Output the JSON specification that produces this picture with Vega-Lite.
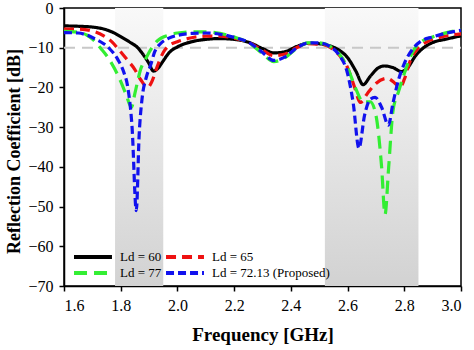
{
  "$schema": "https://vega.github.io/schema/vega-lite/v6.json",
  "width": 397,
  "height": 278,
  "autosize": "none",
  "padding": {"left": 64, "top": 8, "right": 13, "bottom": 64},
  "background": "white",
  "config": {
    "view": {"stroke": "black", "strokeWidth": 1.5},
    "font": "Liberation Serif",
    "axis": {"labelFont": "Liberation Serif", "titleFont": "Liberation Serif", "labelOverlap": false, "grid": false},
    "legend": {"labelFont": "Liberation Serif"}
  },
  "datasets": {
    "bands": [{"f": 1.78, "f2": 1.95, "s": 0, "s2": -70}, {"f": 2.52, "f2": 2.85, "s": 0, "s2": -70}],
    "ref": [{"f": 1.6, "f2": 3.0, "s": -10}],
    "curves": [
      {"f": 1.60, "s": -4.5, "series": "Ld = 60"},
      {"f": 1.65, "s": -4.6, "series": "Ld = 60"},
      {"f": 1.70, "s": -4.8, "series": "Ld = 60"},
      {"f": 1.75, "s": -5.5, "series": "Ld = 60"},
      {"f": 1.78, "s": -6.4, "series": "Ld = 60"},
      {"f": 1.80, "s": -7.2, "series": "Ld = 60"},
      {"f": 1.83, "s": -8.5, "series": "Ld = 60"},
      {"f": 1.86, "s": -10.0, "series": "Ld = 60"},
      {"f": 1.88, "s": -11.8, "series": "Ld = 60"},
      {"f": 1.90, "s": -14.0, "series": "Ld = 60"},
      {"f": 1.915, "s": -15.9, "series": "Ld = 60"},
      {"f": 1.93, "s": -15.3, "series": "Ld = 60"},
      {"f": 1.95, "s": -13.3, "series": "Ld = 60"},
      {"f": 1.97, "s": -11.3, "series": "Ld = 60"},
      {"f": 2.00, "s": -9.8, "series": "Ld = 60"},
      {"f": 2.05, "s": -8.5, "series": "Ld = 60"},
      {"f": 2.10, "s": -7.9, "series": "Ld = 60"},
      {"f": 2.15, "s": -7.7, "series": "Ld = 60"},
      {"f": 2.20, "s": -7.9, "series": "Ld = 60"},
      {"f": 2.25, "s": -8.6, "series": "Ld = 60"},
      {"f": 2.30, "s": -10.2, "series": "Ld = 60"},
      {"f": 2.34, "s": -11.3, "series": "Ld = 60"},
      {"f": 2.38, "s": -11.0, "series": "Ld = 60"},
      {"f": 2.42, "s": -9.7, "series": "Ld = 60"},
      {"f": 2.46, "s": -8.9, "series": "Ld = 60"},
      {"f": 2.50, "s": -9.0, "series": "Ld = 60"},
      {"f": 2.54, "s": -9.6, "series": "Ld = 60"},
      {"f": 2.57, "s": -10.6, "series": "Ld = 60"},
      {"f": 2.60, "s": -12.5, "series": "Ld = 60"},
      {"f": 2.63, "s": -16.0, "series": "Ld = 60"},
      {"f": 2.655, "s": -19.3, "series": "Ld = 60"},
      {"f": 2.68, "s": -17.2, "series": "Ld = 60"},
      {"f": 2.71, "s": -15.0, "series": "Ld = 60"},
      {"f": 2.73, "s": -14.6, "series": "Ld = 60"},
      {"f": 2.76, "s": -15.0, "series": "Ld = 60"},
      {"f": 2.79, "s": -16.0, "series": "Ld = 60"},
      {"f": 2.81, "s": -15.2, "series": "Ld = 60"},
      {"f": 2.84, "s": -12.0, "series": "Ld = 60"},
      {"f": 2.87, "s": -9.9, "series": "Ld = 60"},
      {"f": 2.90, "s": -8.7, "series": "Ld = 60"},
      {"f": 2.95, "s": -7.8, "series": "Ld = 60"},
      {"f": 3.00, "s": -7.0, "series": "Ld = 60"},

      {"f": 1.60, "s": -5.3, "series": "Ld = 65"},
      {"f": 1.65, "s": -5.3, "series": "Ld = 65"},
      {"f": 1.70, "s": -5.8, "series": "Ld = 65"},
      {"f": 1.74, "s": -7.0, "series": "Ld = 65"},
      {"f": 1.77, "s": -8.6, "series": "Ld = 65"},
      {"f": 1.79, "s": -10.2, "series": "Ld = 65"},
      {"f": 1.82, "s": -12.8, "series": "Ld = 65"},
      {"f": 1.85, "s": -15.5, "series": "Ld = 65"},
      {"f": 1.87, "s": -18.0, "series": "Ld = 65"},
      {"f": 1.895, "s": -20.0, "series": "Ld = 65"},
      {"f": 1.91, "s": -18.5, "series": "Ld = 65"},
      {"f": 1.93, "s": -14.5, "series": "Ld = 65"},
      {"f": 1.95, "s": -11.2, "series": "Ld = 65"},
      {"f": 1.97, "s": -9.5, "series": "Ld = 65"},
      {"f": 2.00, "s": -8.5, "series": "Ld = 65"},
      {"f": 2.05, "s": -7.5, "series": "Ld = 65"},
      {"f": 2.10, "s": -7.1, "series": "Ld = 65"},
      {"f": 2.15, "s": -7.1, "series": "Ld = 65"},
      {"f": 2.20, "s": -7.6, "series": "Ld = 65"},
      {"f": 2.25, "s": -8.7, "series": "Ld = 65"},
      {"f": 2.30, "s": -10.6, "series": "Ld = 65"},
      {"f": 2.34, "s": -12.0, "series": "Ld = 65"},
      {"f": 2.38, "s": -11.6, "series": "Ld = 65"},
      {"f": 2.42, "s": -10.0, "series": "Ld = 65"},
      {"f": 2.46, "s": -9.0, "series": "Ld = 65"},
      {"f": 2.50, "s": -9.1, "series": "Ld = 65"},
      {"f": 2.54, "s": -10.0, "series": "Ld = 65"},
      {"f": 2.57, "s": -11.8, "series": "Ld = 65"},
      {"f": 2.60, "s": -15.0, "series": "Ld = 65"},
      {"f": 2.625, "s": -20.0, "series": "Ld = 65"},
      {"f": 2.645, "s": -23.8, "series": "Ld = 65"},
      {"f": 2.67, "s": -21.5, "series": "Ld = 65"},
      {"f": 2.70, "s": -19.0, "series": "Ld = 65"},
      {"f": 2.74, "s": -17.7, "series": "Ld = 65"},
      {"f": 2.765, "s": -18.8, "series": "Ld = 65"},
      {"f": 2.785, "s": -20.0, "series": "Ld = 65"},
      {"f": 2.80, "s": -18.0, "series": "Ld = 65"},
      {"f": 2.82, "s": -13.5, "series": "Ld = 65"},
      {"f": 2.85, "s": -10.0, "series": "Ld = 65"},
      {"f": 2.88, "s": -8.5, "series": "Ld = 65"},
      {"f": 2.92, "s": -7.5, "series": "Ld = 65"},
      {"f": 3.00, "s": -6.5, "series": "Ld = 65"},

      {"f": 1.60, "s": -5.9, "series": "Ld = 77"},
      {"f": 1.65, "s": -6.1, "series": "Ld = 77"},
      {"f": 1.68, "s": -6.8, "series": "Ld = 77"},
      {"f": 1.70, "s": -7.8, "series": "Ld = 77"},
      {"f": 1.73, "s": -10.2, "series": "Ld = 77"},
      {"f": 1.76, "s": -13.0, "series": "Ld = 77"},
      {"f": 1.78, "s": -15.5, "series": "Ld = 77"},
      {"f": 1.80, "s": -18.5, "series": "Ld = 77"},
      {"f": 1.82, "s": -22.0, "series": "Ld = 77"},
      {"f": 1.838, "s": -25.0, "series": "Ld = 77"},
      {"f": 1.85, "s": -21.5, "series": "Ld = 77"},
      {"f": 1.87, "s": -15.5, "series": "Ld = 77"},
      {"f": 1.89, "s": -12.5, "series": "Ld = 77"},
      {"f": 1.91, "s": -10.0, "series": "Ld = 77"},
      {"f": 1.93, "s": -8.2, "series": "Ld = 77"},
      {"f": 1.97, "s": -6.8, "series": "Ld = 77"},
      {"f": 2.00, "s": -6.3, "series": "Ld = 77"},
      {"f": 2.05, "s": -6.0, "series": "Ld = 77"},
      {"f": 2.10, "s": -6.0, "series": "Ld = 77"},
      {"f": 2.15, "s": -6.4, "series": "Ld = 77"},
      {"f": 2.20, "s": -7.3, "series": "Ld = 77"},
      {"f": 2.25, "s": -8.7, "series": "Ld = 77"},
      {"f": 2.30, "s": -11.5, "series": "Ld = 77"},
      {"f": 2.34, "s": -13.5, "series": "Ld = 77"},
      {"f": 2.38, "s": -12.5, "series": "Ld = 77"},
      {"f": 2.42, "s": -10.2, "series": "Ld = 77"},
      {"f": 2.46, "s": -8.8, "series": "Ld = 77"},
      {"f": 2.50, "s": -8.8, "series": "Ld = 77"},
      {"f": 2.54, "s": -9.7, "series": "Ld = 77"},
      {"f": 2.57, "s": -11.5, "series": "Ld = 77"},
      {"f": 2.60, "s": -15.0, "series": "Ld = 77"},
      {"f": 2.63, "s": -20.5, "series": "Ld = 77"},
      {"f": 2.655, "s": -23.7, "series": "Ld = 77"},
      {"f": 2.68, "s": -23.6, "series": "Ld = 77"},
      {"f": 2.70, "s": -27.0, "series": "Ld = 77"},
      {"f": 2.72, "s": -40.0, "series": "Ld = 77"},
      {"f": 2.732, "s": -52.0, "series": "Ld = 77"},
      {"f": 2.745, "s": -40.0, "series": "Ld = 77"},
      {"f": 2.76, "s": -26.0, "series": "Ld = 77"},
      {"f": 2.78, "s": -21.0, "series": "Ld = 77"},
      {"f": 2.80, "s": -16.5, "series": "Ld = 77"},
      {"f": 2.83, "s": -11.0, "series": "Ld = 77"},
      {"f": 2.86, "s": -8.5, "series": "Ld = 77"},
      {"f": 2.90, "s": -7.3, "series": "Ld = 77"},
      {"f": 2.95, "s": -6.2, "series": "Ld = 77"},
      {"f": 3.00, "s": -5.5, "series": "Ld = 77"},

      {"f": 1.60, "s": -6.2, "series": "Ld = 72.13 (Proposed)"},
      {"f": 1.65, "s": -6.3, "series": "Ld = 72.13 (Proposed)"},
      {"f": 1.68, "s": -6.8, "series": "Ld = 72.13 (Proposed)"},
      {"f": 1.71, "s": -7.8, "series": "Ld = 72.13 (Proposed)"},
      {"f": 1.74, "s": -9.0, "series": "Ld = 72.13 (Proposed)"},
      {"f": 1.76, "s": -10.2, "series": "Ld = 72.13 (Proposed)"},
      {"f": 1.79, "s": -13.0, "series": "Ld = 72.13 (Proposed)"},
      {"f": 1.81, "s": -16.0, "series": "Ld = 72.13 (Proposed)"},
      {"f": 1.825, "s": -20.0, "series": "Ld = 72.13 (Proposed)"},
      {"f": 1.84, "s": -30.0, "series": "Ld = 72.13 (Proposed)"},
      {"f": 1.855, "s": -51.0, "series": "Ld = 72.13 (Proposed)"},
      {"f": 1.865, "s": -32.0, "series": "Ld = 72.13 (Proposed)"},
      {"f": 1.875, "s": -23.0, "series": "Ld = 72.13 (Proposed)"},
      {"f": 1.89, "s": -17.5, "series": "Ld = 72.13 (Proposed)"},
      {"f": 1.905, "s": -14.5, "series": "Ld = 72.13 (Proposed)"},
      {"f": 1.92, "s": -11.0, "series": "Ld = 72.13 (Proposed)"},
      {"f": 1.94, "s": -9.0, "series": "Ld = 72.13 (Proposed)"},
      {"f": 1.97, "s": -7.6, "series": "Ld = 72.13 (Proposed)"},
      {"f": 2.00, "s": -6.9, "series": "Ld = 72.13 (Proposed)"},
      {"f": 2.05, "s": -6.4, "series": "Ld = 72.13 (Proposed)"},
      {"f": 2.10, "s": -6.3, "series": "Ld = 72.13 (Proposed)"},
      {"f": 2.15, "s": -6.6, "series": "Ld = 72.13 (Proposed)"},
      {"f": 2.20, "s": -7.4, "series": "Ld = 72.13 (Proposed)"},
      {"f": 2.25, "s": -8.6, "series": "Ld = 72.13 (Proposed)"},
      {"f": 2.30, "s": -11.2, "series": "Ld = 72.13 (Proposed)"},
      {"f": 2.34, "s": -13.2, "series": "Ld = 72.13 (Proposed)"},
      {"f": 2.38, "s": -12.3, "series": "Ld = 72.13 (Proposed)"},
      {"f": 2.42, "s": -10.1, "series": "Ld = 72.13 (Proposed)"},
      {"f": 2.46, "s": -8.8, "series": "Ld = 72.13 (Proposed)"},
      {"f": 2.50, "s": -8.8, "series": "Ld = 72.13 (Proposed)"},
      {"f": 2.54, "s": -9.8, "series": "Ld = 72.13 (Proposed)"},
      {"f": 2.57, "s": -11.8, "series": "Ld = 72.13 (Proposed)"},
      {"f": 2.60, "s": -16.5, "series": "Ld = 72.13 (Proposed)"},
      {"f": 2.62, "s": -24.0, "series": "Ld = 72.13 (Proposed)"},
      {"f": 2.64, "s": -35.3, "series": "Ld = 72.13 (Proposed)"},
      {"f": 2.66, "s": -27.0, "series": "Ld = 72.13 (Proposed)"},
      {"f": 2.68, "s": -23.0, "series": "Ld = 72.13 (Proposed)"},
      {"f": 2.697, "s": -22.5, "series": "Ld = 72.13 (Proposed)"},
      {"f": 2.72, "s": -25.0, "series": "Ld = 72.13 (Proposed)"},
      {"f": 2.744, "s": -29.5, "series": "Ld = 72.13 (Proposed)"},
      {"f": 2.76, "s": -24.0, "series": "Ld = 72.13 (Proposed)"},
      {"f": 2.78, "s": -18.0, "series": "Ld = 72.13 (Proposed)"},
      {"f": 2.80, "s": -14.0, "series": "Ld = 72.13 (Proposed)"},
      {"f": 2.83, "s": -10.3, "series": "Ld = 72.13 (Proposed)"},
      {"f": 2.86, "s": -8.3, "series": "Ld = 72.13 (Proposed)"},
      {"f": 2.90, "s": -7.3, "series": "Ld = 72.13 (Proposed)"},
      {"f": 2.95, "s": -6.3, "series": "Ld = 72.13 (Proposed)"},
      {"f": 3.00, "s": -5.6, "series": "Ld = 72.13 (Proposed)"}
    ]
  },
  "encoding": {
    "x": {
      "field": "f", "type": "quantitative", "scale": {"domain": [1.6, 3.0], "nice": false},
      "axis": {"values": [1.6, 1.8, 2.0, 2.2, 2.4, 2.6, 2.8, 3.0], "format": ".1f", "title": "Frequency [GHz]", "labelFont": "Liberation Serif", "titleFont": "Liberation Serif", "domainColor": "black", "tickColor": "black", "domainWidth": 1.5, "tickWidth": 1.5, "labelColor": "black", "titleColor": "black", "labelFontSize": 16, "titleFontSize": 19, "titleFontWeight": "bold", "tickSize": 5, "labelPadding": 6, "titlePadding": 12}
    },
    "y": {
      "field": "s", "type": "quantitative", "scale": {"domain": [-70, 0], "nice": false},
      "axis": {"values": [-70, -60, -50, -40, -30, -20, -10, 0], "title": "Reflection Coefficient [dB]", "labelFont": "Liberation Serif", "titleFont": "Liberation Serif", "domainColor": "black", "tickColor": "black", "domainWidth": 1.5, "tickWidth": 1.5, "labelColor": "black", "titleColor": "black", "labelFontSize": 16, "titleFontSize": 18, "titleFontWeight": "bold", "tickSize": 5, "labelPadding": 6, "titleX": -50, "titleY": 143, "titleAngle": -90, "titleAlign": "center", "titleBaseline": "middle"}
    }
  },
  "layer": [
    {
      "data": {"name": "bands"},
      "mark": {"type": "rect", "fill": {"gradient": "linear", "x1": 0, "y1": 0, "x2": 0, "y2": 1, "stops": [{"offset": 0, "color": "#f9f9f9"}, {"offset": 1, "color": "#d2d2d2"}]}},
      "encoding": {
        "x2": {"field": "f2"},
        "y2": {"field": "s2"}
      }
    },
    {
      "data": {"name": "ref"},
      "mark": {"type": "rule", "color": "#c8c8c8", "strokeWidth": 2, "strokeDash": [11, 7]},
      "encoding": {"x2": {"field": "f2"}}
    },
    {
      "data": {"name": "curves"},
      "mark": {"type": "line", "strokeWidth": 3.2, "interpolate": "monotone"},
      "encoding": {
        "color": {
          "field": "series", "type": "nominal",
          "scale": {"domain": ["Ld = 60", "Ld = 65", "Ld = 77", "Ld = 72.13 (Proposed)"], "range": ["#000000", "#ee1111", "#33ee33", "#1111ee"]},
          "legend": {"orient": "none", "direction": "horizontal", "legendX": 22, "legendY": 242, "columns": 2, "title": null, "symbolType": "M-4,0H4", "symbolSize": 90, "symbolStrokeWidth": 4, "labelFontSize": 13, "rowPadding": 0, "columnPadding": -4, "labelOffset": 20}
        },
        "strokeDash": {
          "field": "series", "type": "nominal",
          "scale": {"domain": ["Ld = 60", "Ld = 65", "Ld = 77", "Ld = 72.13 (Proposed)"], "range": [[1, 0], [10, 6], [13, 7], [8, 4]]},
          "legend": {"orient": "none", "direction": "horizontal", "legendX": 22, "legendY": 242, "columns": 2, "title": null, "symbolType": "M-4,0H4", "symbolSize": 90, "symbolStrokeWidth": 4, "labelFontSize": 13, "rowPadding": 0, "columnPadding": -4, "labelOffset": 20}
        }
      }
    }
  ]
}
